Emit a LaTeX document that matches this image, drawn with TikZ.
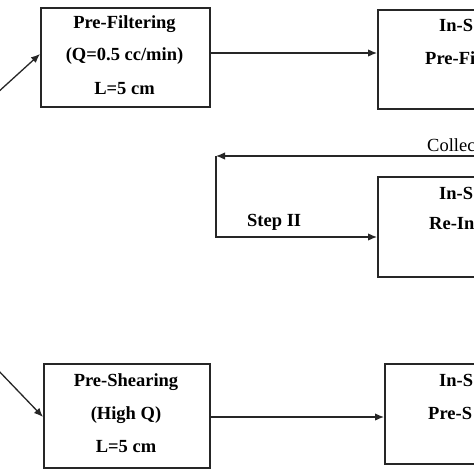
\documentclass[tikz,border=0pt]{standalone}
\usepackage{fontspec}
\setmainfont{Liberation Serif}
\usetikzlibrary{arrows.meta}
\tikzset{
  box/.style={draw=black!85, line width=1.6pt, anchor=north west, inner sep=0pt},
  lbl/.style={font=\fontsize{18.5}{20}\selectfont\bfseries, inner sep=0pt},
  plain/.style={font=\fontsize{18.5}{20}\selectfont, inner sep=0pt},
  arr/.style={draw=black!85, line width=1.3pt, -{Latex[length=9pt,width=7.5pt]}},
  ln/.style={draw=black!85, line width=1.3pt}
}
\begin{document}
\begin{tikzpicture}[x=1pt,y=-1pt]
\useasboundingbox (0,0) rectangle (474,474);
\clip (0,0) rectangle (474,474);
\fill[white] (0,0) rectangle (474,474);
% boxes
\node[box, minimum width=169pt, minimum height=99pt] (b1) at (40,7) {};
\node[box, minimum width=200pt, minimum height=99pt] (b2) at (377,9) {};
\node[box, minimum width=200pt, minimum height=100pt] (b3) at (377,176) {};
\node[box, minimum width=166pt, minimum height=104pt] (b4) at (43,363) {};
\node[box, minimum width=200pt, minimum height=100pt] (b5) at (384,363) {};
% texts box 1
\node[lbl] (t11) at (124.5,24) {Pre-Filtering};
\node[lbl] (t12) at (124.5,56) {(Q=0.5 cc/min)};
\node[lbl] (t13) at (124.5,89) {L=5 cm};
% box 2
\node[lbl, anchor=west] (t21) at (439,25) {In-S};
\node[lbl, anchor=west] (t22) at (425,58) {Pre-Fi};
% collect
\node[plain, anchor=west] (tc) at (427,145) {Collec};
% box 3
\node[lbl, anchor=west] (t31) at (439,193) {In-S};
\node[lbl, anchor=west] (t32) at (429,224) {Re-In};
\node[lbl, anchor=west] (ts) at (247,222) {Step II};
% box 4
\node[lbl] (t41) at (126,382) {Pre-Shearing};
\node[lbl] (t42) at (126,415) {(High Q)};
\node[lbl] (t43) at (126,447) {L=5 cm};
% box 5
\node[lbl, anchor=west] (t51) at (439,380) {In-S};
\node[lbl, anchor=west] (t52) at (428,413) {Pre-S};
% connectors
\coordinate (s1) at (-4,94);
\draw[arr] (s1) -- (b1.west |- 0,54);
\draw[arr] (b1.east |- 0,53) -- (b2.west |- 0,53);
\coordinate (c1) at (480,156);
\coordinate (c2) at (216,156);
\coordinate (c3) at (216,237);
\draw[arr] (c1) -- (c2);
\draw[arr] (c2) -- (c3) -- (b3.west |- c3);
\coordinate (s2) at (-4,368);
\draw[arr] (s2) -- (b4.west |- 0,417);
\draw[arr] (b4.east |- 0,417) -- (b5.west |- 0,417);
\end{tikzpicture}
\end{document}
